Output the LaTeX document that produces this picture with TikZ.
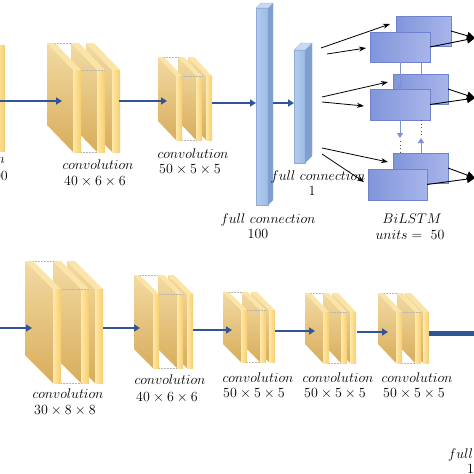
\documentclass[tikz,border=0pt]{standalone}
\usepackage{fix-cm}
\usetikzlibrary{arrows.meta}
\definecolor{slabtop}{HTML}{F2DAA2}
\definecolor{slabbot}{HTML}{D8AD5C}
\definecolor{frontL}{HTML}{FFE8AA}
\definecolor{frontR}{HTML}{F6CD6C}
\definecolor{slabtopface}{HTML}{FBE4A8}
\definecolor{hiddenc}{HTML}{B4B4B4}
\definecolor{flow}{HTML}{2F5597}
\definecolor{fcL}{HTML}{B3CCEE}
\definecolor{fcR}{HTML}{9CBBE5}
\definecolor{fcsidec}{HTML}{7E9FCF}
\definecolor{fctopc}{HTML}{C8DAF2}
\definecolor{fcedge}{HTML}{8EAAD6}
\definecolor{lstmL}{HTML}{8295DB}
\definecolor{lstmR}{HTML}{A8B5EA}
\definecolor{lstmedge}{HTML}{6E83CB}
\definecolor{linkc}{HTML}{7D93D6}
\tikzset{
  flowarrow/.style={draw=flow, line width=2.6pt, -{Triangle[length=6pt,width=7pt]}},
  inarrow/.style={draw=black, line width=0.8pt, -{Stealth[length=7pt,width=5pt]}},
  outarrow/.style={draw=black, line width=0.9pt, -{Triangle[length=8pt,width=8pt]}},
  lstm/.style={rectangle, inner sep=0pt, outer sep=0pt, left color=lstmL, right color=lstmR, draw=lstmedge, line width=0.5pt},
  fcfront/.style={rectangle, inner sep=0pt, outer sep=0pt, left color=fcL, right color=fcR, draw=fcedge, line width=0.3pt},
  fcside/.style={fill=fcsidec, draw=fcedge, line width=0.3pt},
  fctop/.style={fill=fctopc, draw=fcedge, line width=0.3pt},
  hiddenedge/.style={draw=hiddenc, line width=0.5pt, densely dotted},
  linkline/.style={draw=linkc, line width=0.9pt},
  linkarrow/.style={draw=linkc, line width=0.9pt, -{Triangle[length=5pt,width=6pt]}},
  linkdots/.style={draw=black!70, line width=1pt, dash pattern=on 1pt off 2.5pt},
  lbl/.style={anchor=base, inner sep=0pt, font=\fontsize{14}{16}\selectfont},
}
% x0 y0 dx dy t h
\newcommand\slabbox[6]{%
  \shade[top color=slabtop,bottom color=slabbot] (#1,#2) -- (#1+#3,#2+#4) -- (#1+#3,#2+#4+#6) -- (#1,#2+#6) -- cycle;
  \fill[slabtopface] (#1,#2) -- (#1+#5,#2) -- (#1+#3+#5,#2+#4) -- (#1+#3,#2+#4) -- cycle;
  \shade[left color=frontL,right color=frontR] (#1+#3,#2+#4) rectangle (#1+#3+#5,#2+#4+#6);
}
% x1 x2 x3 y0 dx dy t h
\newcommand\convblock[8]{%
  \slabbox{#3}{#4}{#5}{#6}{#7}{#8}%
  \slabbox{#2}{#4}{#5}{#6}{#7}{#8}%
  \slabbox{#1}{#4}{#5}{#6}{#7}{#8}%
  \draw[hiddenedge] (#1+#7,#4) -- (#2,#4);
  \draw[hiddenedge] (#1+#5+#7,#4+#6) -- (#2+#5+#7,#4+#6);
  \draw[hiddenedge] (#1+#5+#7,#4+#6+#8) -- (#2+#5,#4+#6+#8);
}
\begin{document}
\begin{tikzpicture}[x=1pt,y=-1pt]
\path[use as bounding box] (0,0) rectangle (474,474);
\clip (0,0) rectangle (474,474);

% ---------------- top row ----------------
\shade[left color=frontL,right color=frontR] (-4,45) rectangle (5,151);
\convblock{47}{71}{86}{43}{26}{27}{8}{82}
\convblock{158}{178}{188}{57}{18}{19}{6}{64}

% full connection bars
\node[fcfront, minimum width=12pt, minimum height=197pt] (fc100) at (262,106.5) {};
\fill[fcside] (fc100.north east) -- ++(5,-5) -- ++(0,197) -- (fc100.south east) -- cycle;
\fill[fctop] (fc100.north west) -- ++(5,-5) -- ++(12,0) -- (fc100.north east) -- cycle;
\node[fcfront, minimum width=11pt, minimum height=113pt] (fc1) at (299.5,106.5) {};
\fill[fcside] (fc1.north east) -- ++(7,-7) -- ++(0,113) -- (fc1.south east) -- cycle;
\fill[fctop] (fc1.north west) -- ++(7,-7) -- ++(11,0) -- (fc1.north east) -- cycle;

% flow arrows top
\coordinate (t0s) at (0,101);   \coordinate (t0e) at (62,101);
\coordinate (t1s) at (119,101); \coordinate (t1e) at (167,101);
\coordinate (t2s) at (212,103); \coordinate (t2e) at (fc100.west |- 0,103);
\coordinate (t3s) at (273,103); \coordinate (t3e) at (fc1.west |- 0,103);
\draw[flowarrow] (t0s) -- (t0e);
\draw[flowarrow] (t1s) -- (t1e);
\draw[flowarrow] (t2s) -- (t2e);
\draw[flowarrow] (t3s) -- (t3e);

% BiLSTM
\node[lstm, minimum width=55pt, minimum height=30pt] (r1b) at (423.5,31) {};
\node[lstm, minimum width=55pt, minimum height=30pt] (r2b) at (420.5,89) {};
\node[lstm, minimum width=55pt, minimum height=30pt] (r3b) at (420.5,168) {};
\draw[linkline] (r2b.north -| 421,0) -- (r1b.south -| 421,0);
\node[lstm, minimum width=60pt, minimum height=30pt] (r1f) at (400,47) {};
\node[lstm, minimum width=60pt, minimum height=31pt] (r2f) at (400,104.5) {};
\node[lstm, minimum width=59pt, minimum height=31pt] (r3f) at (397.5,184.5) {};
% vertical links
\coordinate (d1) at (400,138);
\coordinate (d2) at (400,141);
\coordinate (u1) at (421,138);
\coordinate (u2) at (421,135);
\draw[linkarrow] (r1f.south) -- (r2f.north);
\draw[linkarrow] (r2f.south) -- (d1);
\draw[linkdots] (d2) -- (r3b.north -| 400,0);
\draw[linkarrow] (r3b.north -| 421,0) -- (u1);
\draw[linkdots] (u2) -- (r2f.south -| 421,0);

% inputs into BiLSTM
\coordinate (i1) at (321,48);  \coordinate (j1) at (390,24);
\coordinate (i2) at (327,54);  \coordinate (j2) at (366,48);
\coordinate (i3) at (322,97);  \coordinate (j3) at (388,82);
\coordinate (i4) at (322,102); \coordinate (j4) at (364,106);
\coordinate (i5) at (322,148); \coordinate (j5) at (388,162);
\coordinate (i6) at (322,154); \coordinate (j6) at (364,182);
\foreach \k in {1,...,6} { \draw[inarrow] (i\k) -- (j\k); }

% outputs
\coordinate (o1) at (475,38);
\coordinate (o2) at (475,98);
\coordinate (o3) at (475,178);
\draw[outarrow] (r1b.east) -- (o1);
\draw[outarrow] (r1f.east) -- (o1);
\draw[outarrow] (r2b.east) -- (o2);
\draw[outarrow] (r2f.east) -- (o2);
\draw[outarrow] (r3b.east) -- (o3);
\draw[outarrow] (r3f.east) -- (o3);

% labels top
\node[lbl, anchor=base east] (l0a) at (5,163) {$full\ connection$};
\node[lbl, anchor=base east] (l0b) at (8,180) {$100$};
\node[lbl] (l1a) at (98,169) {$convolution$};
\node[lbl] (l1b) at (95,185) {$40\times6\times6$};
\node[lbl] (l2a) at (193,158) {$convolution$};
\node[lbl] (l2b) at (190,173) {$50\times5\times5$};
\node[lbl] (l3a) at (268,223) {$full\ connection$};
\node[lbl] (l3b) at (258,238) {$100$};
\node[lbl] (l4a) at (318,180) {$full\ connection$};
\node[lbl] (l4b) at (312,195) {$1$};
\node[lbl] (l5a) at (412,223) {$BiLSTM$};
\node[lbl] (l5b) at (410,239) {$units=\ 50$};

% ---------------- bottom row ----------------
\convblock{25}{53}{67}{261}{28}{28}{8}{94}
\convblock{134}{158}{168}{275}{19}{19}{6}{74}
\convblock{223}{242}{251}{292}{18}{18}{6}{52}
\convblock{305}{323}{332}{293}{18}{19}{6}{51}
\convblock{378}{397}{405}{293}{18}{19}{6}{51}

\coordinate (b0s) at (0,328);   \coordinate (b0e) at (32,328);
\coordinate (b1s) at (103,328); \coordinate (b1e) at (140,328);
\coordinate (b2s) at (193,330); \coordinate (b2e) at (232,330);
\coordinate (b3s) at (275,331); \coordinate (b3e) at (315,331);
\coordinate (b4s) at (357,332); \coordinate (b4e) at (388,332);
\coordinate (b5s) at (429,333); \coordinate (b5e) at (480,333);
\draw[flowarrow] (b0s) -- (b0e);
\draw[flowarrow] (b1s) -- (b1e);
\draw[flowarrow] (b2s) -- (b2e);
\draw[flowarrow] (b3s) -- (b3e);
\draw[flowarrow] (b4s) -- (b4e);
\draw[draw=flow, line width=5pt] (b5s) -- (b5e);

\node[lbl] (m1a) at (68,398) {$convolution$};
\node[lbl] (m1b) at (65,414) {$30\times8\times8$};
\node[lbl] (m2a) at (170,384) {$convolution$};
\node[lbl] (m2b) at (167,401) {$40\times6\times6$};
\node[lbl] (m3a) at (258,382) {$convolution$};
\node[lbl] (m3b) at (254,397) {$50\times5\times5$};
\node[lbl] (m4a) at (338,382) {$convolution$};
\node[lbl] (m4b) at (335,397) {$50\times5\times5$};
\node[lbl] (m5a) at (417,382) {$convolution$};
\node[lbl] (m5b) at (414,397) {$50\times5\times5$};
\node[lbl, anchor=base west] (m6a) at (448,458) {$full\ connection$};
\node[lbl, anchor=base west] (m6b) at (467,473) {$100$};
\end{tikzpicture}
\end{document}
